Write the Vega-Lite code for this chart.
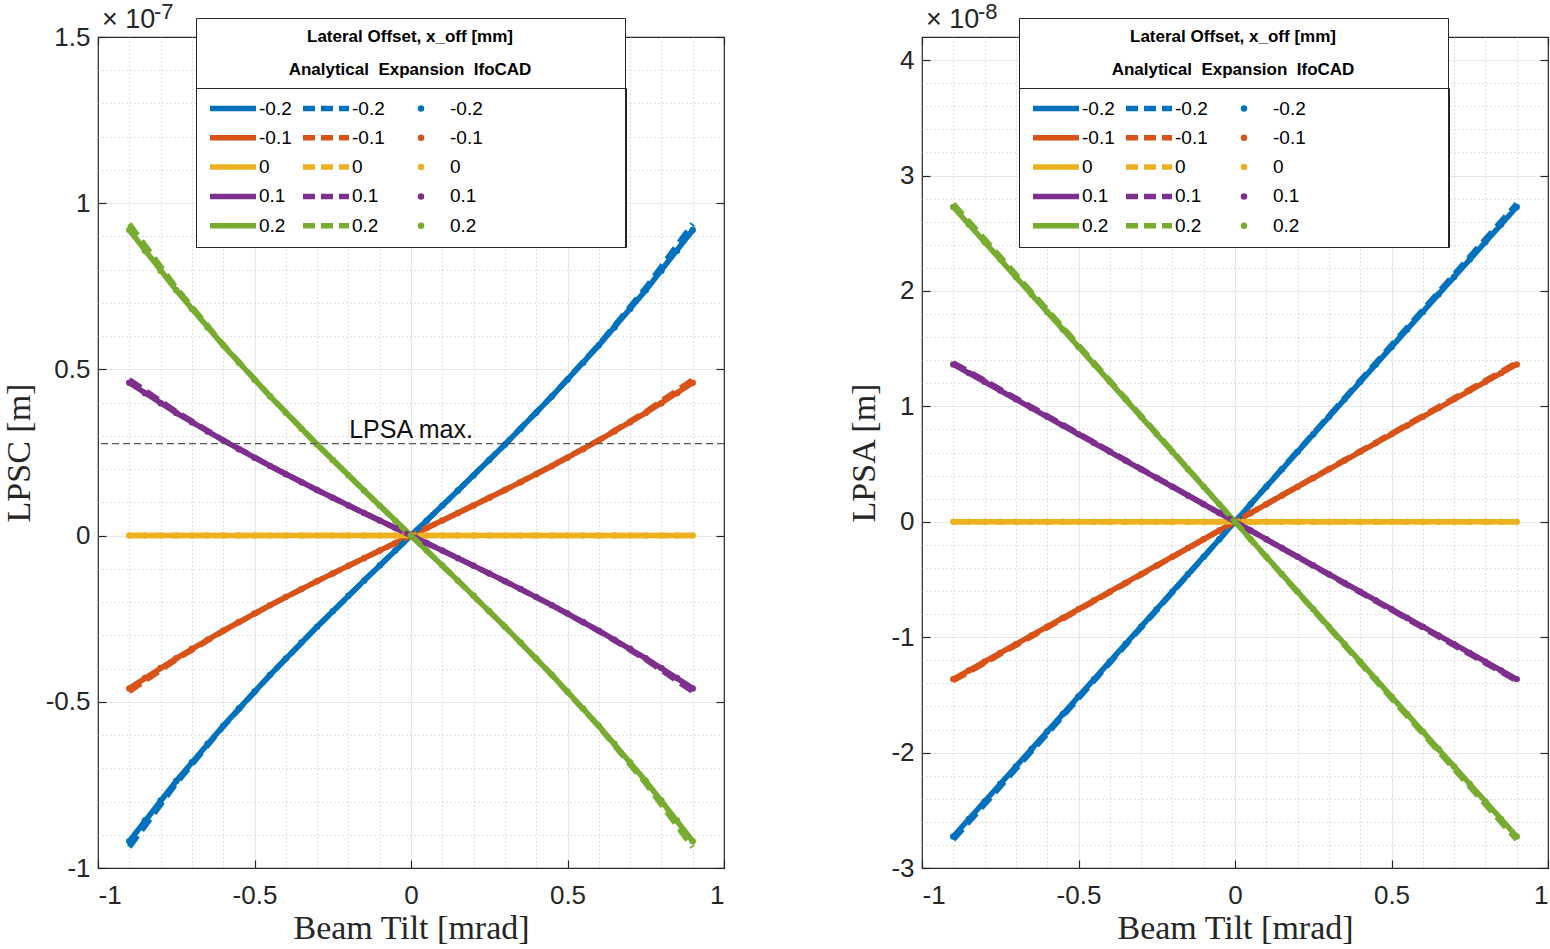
{
"$schema": "https://vega.github.io/schema/vega-lite/v6.json",
"autosize": {"type": "none"},
"padding": {"left": 98, "top": 37, "right": 1452, "bottom": 912},
"background": "white",
"config": {
 "view": {"stroke": "#262626", "strokeWidth": 1.2},
 "font": "Liberation Sans",
 "axis": {"labelFont": "Liberation Sans", "labelFontSize": 26, "labelColor": "#262626", "titleFont": "Liberation Serif", "titleFontSize": 34, "titleFontWeight": "normal", "titleColor": "#262626", "domain": false, "tickColor": "#262626", "tickWidth": 1.2, "tickSize": -8, "labelOverlap": false},
 "legend": {"titleFont": "Liberation Sans", "titleFontSize": 17, "titleFontWeight": "bold", "titleColor": "#000000", "titleAnchor": "middle", "titleAlign": "center", "titleLineHeight": 33, "titlePadding": 20, "titleLimit": 600, "labelFont": "Liberation Sans", "labelFontSize": 19, "labelColor": "#000000", "labelLimit": 600, "labelOffset": 0, "symbolStrokeWidth": 5.5, "rowPadding": 9.3, "clipHeight": 19, "symbolOpacity": 1}
},
"datasets": {
 "LPSC_Analytical": [
  {"s":"A:-0.2","x":-0.9,"y":-0.9194},{"s":"A:-0.2","x":-0.75,"y":-0.7383},{"s":"A:-0.2","x":-0.6,"y":-0.5724},{"s":"A:-0.2","x":-0.45,"y":-0.4187},{"s":"A:-0.2","x":-0.3,"y":-0.2741},{"s":"A:-0.2","x":-0.15,"y":-0.1355},{"s":"A:-0.2","x":0,"y":0},{"s":"A:-0.2","x":0.15,"y":0.1355},{"s":"A:-0.2","x":0.3,"y":0.2741},{"s":"A:-0.2","x":0.45,"y":0.4187},{"s":"A:-0.2","x":0.6,"y":0.5724},{"s":"A:-0.2","x":0.75,"y":0.7383},{"s":"A:-0.2","x":0.9,"y":0.9194},
  {"s":"A:-0.1","x":-0.9,"y":-0.4597},{"s":"A:-0.1","x":-0.75,"y":-0.3691},{"s":"A:-0.1","x":-0.6,"y":-0.2862},{"s":"A:-0.1","x":-0.45,"y":-0.2093},{"s":"A:-0.1","x":-0.3,"y":-0.137},{"s":"A:-0.1","x":-0.15,"y":-0.0678},{"s":"A:-0.1","x":0,"y":0},{"s":"A:-0.1","x":0.15,"y":0.0678},{"s":"A:-0.1","x":0.3,"y":0.137},{"s":"A:-0.1","x":0.45,"y":0.2093},{"s":"A:-0.1","x":0.6,"y":0.2862},{"s":"A:-0.1","x":0.75,"y":0.3691},{"s":"A:-0.1","x":0.9,"y":0.4597},
  {"s":"A:0","x":-0.9,"y":0},{"s":"A:0","x":-0.75,"y":0},{"s":"A:0","x":-0.6,"y":0},{"s":"A:0","x":-0.45,"y":0},{"s":"A:0","x":-0.3,"y":0},{"s":"A:0","x":-0.15,"y":0},{"s":"A:0","x":0,"y":0},{"s":"A:0","x":0.15,"y":0},{"s":"A:0","x":0.3,"y":0},{"s":"A:0","x":0.45,"y":0},{"s":"A:0","x":0.6,"y":0},{"s":"A:0","x":0.75,"y":0},{"s":"A:0","x":0.9,"y":0},
  {"s":"A:0.1","x":-0.9,"y":0.4597},{"s":"A:0.1","x":-0.75,"y":0.3691},{"s":"A:0.1","x":-0.6,"y":0.2862},{"s":"A:0.1","x":-0.45,"y":0.2093},{"s":"A:0.1","x":-0.3,"y":0.137},{"s":"A:0.1","x":-0.15,"y":0.0678},{"s":"A:0.1","x":0,"y":0},{"s":"A:0.1","x":0.15,"y":-0.0678},{"s":"A:0.1","x":0.3,"y":-0.137},{"s":"A:0.1","x":0.45,"y":-0.2093},{"s":"A:0.1","x":0.6,"y":-0.2862},{"s":"A:0.1","x":0.75,"y":-0.3691},{"s":"A:0.1","x":0.9,"y":-0.4597},
  {"s":"A:0.2","x":-0.9,"y":0.9194},{"s":"A:0.2","x":-0.75,"y":0.7383},{"s":"A:0.2","x":-0.6,"y":0.5724},{"s":"A:0.2","x":-0.45,"y":0.4187},{"s":"A:0.2","x":-0.3,"y":0.2741},{"s":"A:0.2","x":-0.15,"y":0.1355},{"s":"A:0.2","x":0,"y":0},{"s":"A:0.2","x":0.15,"y":-0.1355},{"s":"A:0.2","x":0.3,"y":-0.2741},{"s":"A:0.2","x":0.45,"y":-0.4187},{"s":"A:0.2","x":0.6,"y":-0.5724},{"s":"A:0.2","x":0.75,"y":-0.7383},{"s":"A:0.2","x":0.9,"y":-0.9194}
 ],
 "LPSC_Expansion": [
  {"s":"E:-0.2","x":-0.9,"y":-0.9375},{"s":"E:-0.2","x":-0.75,"y":-0.7453},{"s":"E:-0.2","x":-0.6,"y":-0.5746},{"s":"E:-0.2","x":-0.45,"y":-0.4192},{"s":"E:-0.2","x":-0.3,"y":-0.2742},{"s":"E:-0.2","x":-0.15,"y":-0.1355},{"s":"E:-0.2","x":0,"y":0},{"s":"E:-0.2","x":0.15,"y":0.1355},{"s":"E:-0.2","x":0.3,"y":0.2742},{"s":"E:-0.2","x":0.45,"y":0.4192},{"s":"E:-0.2","x":0.6,"y":0.5746},{"s":"E:-0.2","x":0.75,"y":0.7453},{"s":"E:-0.2","x":0.9,"y":0.9375},
  {"s":"E:-0.1","x":-0.9,"y":-0.4688},{"s":"E:-0.1","x":-0.75,"y":-0.3727},{"s":"E:-0.1","x":-0.6,"y":-0.2873},{"s":"E:-0.1","x":-0.45,"y":-0.2096},{"s":"E:-0.1","x":-0.3,"y":-0.1371},{"s":"E:-0.1","x":-0.15,"y":-0.0678},{"s":"E:-0.1","x":0,"y":0},{"s":"E:-0.1","x":0.15,"y":0.0678},{"s":"E:-0.1","x":0.3,"y":0.1371},{"s":"E:-0.1","x":0.45,"y":0.2096},{"s":"E:-0.1","x":0.6,"y":0.2873},{"s":"E:-0.1","x":0.75,"y":0.3727},{"s":"E:-0.1","x":0.9,"y":0.4688},
  {"s":"E:0","x":-0.9,"y":0},{"s":"E:0","x":-0.75,"y":0},{"s":"E:0","x":-0.6,"y":0},{"s":"E:0","x":-0.45,"y":0},{"s":"E:0","x":-0.3,"y":0},{"s":"E:0","x":-0.15,"y":0},{"s":"E:0","x":0,"y":0},{"s":"E:0","x":0.15,"y":0},{"s":"E:0","x":0.3,"y":0},{"s":"E:0","x":0.45,"y":0},{"s":"E:0","x":0.6,"y":0},{"s":"E:0","x":0.75,"y":0},{"s":"E:0","x":0.9,"y":0},
  {"s":"E:0.1","x":-0.9,"y":0.4688},{"s":"E:0.1","x":-0.75,"y":0.3727},{"s":"E:0.1","x":-0.6,"y":0.2873},{"s":"E:0.1","x":-0.45,"y":0.2096},{"s":"E:0.1","x":-0.3,"y":0.1371},{"s":"E:0.1","x":-0.15,"y":0.0678},{"s":"E:0.1","x":0,"y":0},{"s":"E:0.1","x":0.15,"y":-0.0678},{"s":"E:0.1","x":0.3,"y":-0.1371},{"s":"E:0.1","x":0.45,"y":-0.2096},{"s":"E:0.1","x":0.6,"y":-0.2873},{"s":"E:0.1","x":0.75,"y":-0.3727},{"s":"E:0.1","x":0.9,"y":-0.4688},
  {"s":"E:0.2","x":-0.9,"y":0.9375},{"s":"E:0.2","x":-0.75,"y":0.7453},{"s":"E:0.2","x":-0.6,"y":0.5746},{"s":"E:0.2","x":-0.45,"y":0.4192},{"s":"E:0.2","x":-0.3,"y":0.2742},{"s":"E:0.2","x":-0.15,"y":0.1355},{"s":"E:0.2","x":0,"y":0},{"s":"E:0.2","x":0.15,"y":-0.1355},{"s":"E:0.2","x":0.3,"y":-0.2742},{"s":"E:0.2","x":0.45,"y":-0.4192},{"s":"E:0.2","x":0.6,"y":-0.5746},{"s":"E:0.2","x":0.75,"y":-0.7453},{"s":"E:0.2","x":0.9,"y":-0.9375}
 ],
 "LPSC_IfoCAD": [
  {"s":"I:-0.2","x":-0.9,"y":-0.9194},{"s":"I:-0.2","x":-0.85,"y":-0.8571},{"s":"I:-0.2","x":-0.8,"y":-0.7968},{"s":"I:-0.2","x":-0.75,"y":-0.7383},{"s":"I:-0.2","x":-0.7,"y":-0.6815},{"s":"I:-0.2","x":-0.65,"y":-0.6262},{"s":"I:-0.2","x":-0.6,"y":-0.5724},{"s":"I:-0.2","x":-0.55,"y":-0.52},{"s":"I:-0.2","x":-0.5,"y":-0.4688},{"s":"I:-0.2","x":-0.45,"y":-0.4187},{"s":"I:-0.2","x":-0.4,"y":-0.3696},{"s":"I:-0.2","x":-0.35,"y":-0.3214},{"s":"I:-0.2","x":-0.3,"y":-0.2741},{"s":"I:-0.2","x":-0.25,"y":-0.2273},{"s":"I:-0.2","x":-0.2,"y":-0.1812},{"s":"I:-0.2","x":-0.15,"y":-0.1355},{"s":"I:-0.2","x":-0.1,"y":-0.0902},{"s":"I:-0.2","x":-0.05,"y":-0.045},{"s":"I:-0.2","x":0,"y":0},{"s":"I:-0.2","x":0.05,"y":0.045},{"s":"I:-0.2","x":0.1,"y":0.0902},{"s":"I:-0.2","x":0.15,"y":0.1355},{"s":"I:-0.2","x":0.2,"y":0.1812},{"s":"I:-0.2","x":0.25,"y":0.2273},{"s":"I:-0.2","x":0.3,"y":0.2741},{"s":"I:-0.2","x":0.35,"y":0.3214},{"s":"I:-0.2","x":0.4,"y":0.3696},{"s":"I:-0.2","x":0.45,"y":0.4187},{"s":"I:-0.2","x":0.5,"y":0.4688},{"s":"I:-0.2","x":0.55,"y":0.52},{"s":"I:-0.2","x":0.6,"y":0.5724},{"s":"I:-0.2","x":0.65,"y":0.6262},{"s":"I:-0.2","x":0.7,"y":0.6815},{"s":"I:-0.2","x":0.75,"y":0.7383},{"s":"I:-0.2","x":0.8,"y":0.7968},{"s":"I:-0.2","x":0.85,"y":0.8571},{"s":"I:-0.2","x":0.9,"y":0.9194},
  {"s":"I:-0.1","x":-0.9,"y":-0.4597},{"s":"I:-0.1","x":-0.85,"y":-0.4286},{"s":"I:-0.1","x":-0.8,"y":-0.3984},{"s":"I:-0.1","x":-0.75,"y":-0.3691},{"s":"I:-0.1","x":-0.7,"y":-0.3407},{"s":"I:-0.1","x":-0.65,"y":-0.3131},{"s":"I:-0.1","x":-0.6,"y":-0.2862},{"s":"I:-0.1","x":-0.55,"y":-0.26},{"s":"I:-0.1","x":-0.5,"y":-0.2344},{"s":"I:-0.1","x":-0.45,"y":-0.2093},{"s":"I:-0.1","x":-0.4,"y":-0.1848},{"s":"I:-0.1","x":-0.35,"y":-0.1607},{"s":"I:-0.1","x":-0.3,"y":-0.137},{"s":"I:-0.1","x":-0.25,"y":-0.1137},{"s":"I:-0.1","x":-0.2,"y":-0.0906},{"s":"I:-0.1","x":-0.15,"y":-0.0678},{"s":"I:-0.1","x":-0.1,"y":-0.0451},{"s":"I:-0.1","x":-0.05,"y":-0.0225},{"s":"I:-0.1","x":0,"y":0},{"s":"I:-0.1","x":0.05,"y":0.0225},{"s":"I:-0.1","x":0.1,"y":0.0451},{"s":"I:-0.1","x":0.15,"y":0.0678},{"s":"I:-0.1","x":0.2,"y":0.0906},{"s":"I:-0.1","x":0.25,"y":0.1137},{"s":"I:-0.1","x":0.3,"y":0.137},{"s":"I:-0.1","x":0.35,"y":0.1607},{"s":"I:-0.1","x":0.4,"y":0.1848},{"s":"I:-0.1","x":0.45,"y":0.2093},{"s":"I:-0.1","x":0.5,"y":0.2344},{"s":"I:-0.1","x":0.55,"y":0.26},{"s":"I:-0.1","x":0.6,"y":0.2862},{"s":"I:-0.1","x":0.65,"y":0.3131},{"s":"I:-0.1","x":0.7,"y":0.3407},{"s":"I:-0.1","x":0.75,"y":0.3691},{"s":"I:-0.1","x":0.8,"y":0.3984},{"s":"I:-0.1","x":0.85,"y":0.4286},{"s":"I:-0.1","x":0.9,"y":0.4597},
  {"s":"I:0","x":-0.9,"y":0},{"s":"I:0","x":-0.85,"y":0},{"s":"I:0","x":-0.8,"y":0},{"s":"I:0","x":-0.75,"y":0},{"s":"I:0","x":-0.7,"y":0},{"s":"I:0","x":-0.65,"y":0},{"s":"I:0","x":-0.6,"y":0},{"s":"I:0","x":-0.55,"y":0},{"s":"I:0","x":-0.5,"y":0},{"s":"I:0","x":-0.45,"y":0},{"s":"I:0","x":-0.4,"y":0},{"s":"I:0","x":-0.35,"y":0},{"s":"I:0","x":-0.3,"y":0},{"s":"I:0","x":-0.25,"y":0},{"s":"I:0","x":-0.2,"y":0},{"s":"I:0","x":-0.15,"y":0},{"s":"I:0","x":-0.1,"y":0},{"s":"I:0","x":-0.05,"y":0},{"s":"I:0","x":0,"y":0},{"s":"I:0","x":0.05,"y":0},{"s":"I:0","x":0.1,"y":0},{"s":"I:0","x":0.15,"y":0},{"s":"I:0","x":0.2,"y":0},{"s":"I:0","x":0.25,"y":0},{"s":"I:0","x":0.3,"y":0},{"s":"I:0","x":0.35,"y":0},{"s":"I:0","x":0.4,"y":0},{"s":"I:0","x":0.45,"y":0},{"s":"I:0","x":0.5,"y":0},{"s":"I:0","x":0.55,"y":0},{"s":"I:0","x":0.6,"y":0},{"s":"I:0","x":0.65,"y":0},{"s":"I:0","x":0.7,"y":0},{"s":"I:0","x":0.75,"y":0},{"s":"I:0","x":0.8,"y":0},{"s":"I:0","x":0.85,"y":0},{"s":"I:0","x":0.9,"y":0},
  {"s":"I:0.1","x":-0.9,"y":0.4597},{"s":"I:0.1","x":-0.85,"y":0.4286},{"s":"I:0.1","x":-0.8,"y":0.3984},{"s":"I:0.1","x":-0.75,"y":0.3691},{"s":"I:0.1","x":-0.7,"y":0.3407},{"s":"I:0.1","x":-0.65,"y":0.3131},{"s":"I:0.1","x":-0.6,"y":0.2862},{"s":"I:0.1","x":-0.55,"y":0.26},{"s":"I:0.1","x":-0.5,"y":0.2344},{"s":"I:0.1","x":-0.45,"y":0.2093},{"s":"I:0.1","x":-0.4,"y":0.1848},{"s":"I:0.1","x":-0.35,"y":0.1607},{"s":"I:0.1","x":-0.3,"y":0.137},{"s":"I:0.1","x":-0.25,"y":0.1137},{"s":"I:0.1","x":-0.2,"y":0.0906},{"s":"I:0.1","x":-0.15,"y":0.0678},{"s":"I:0.1","x":-0.1,"y":0.0451},{"s":"I:0.1","x":-0.05,"y":0.0225},{"s":"I:0.1","x":0,"y":0},{"s":"I:0.1","x":0.05,"y":-0.0225},{"s":"I:0.1","x":0.1,"y":-0.0451},{"s":"I:0.1","x":0.15,"y":-0.0678},{"s":"I:0.1","x":0.2,"y":-0.0906},{"s":"I:0.1","x":0.25,"y":-0.1137},{"s":"I:0.1","x":0.3,"y":-0.137},{"s":"I:0.1","x":0.35,"y":-0.1607},{"s":"I:0.1","x":0.4,"y":-0.1848},{"s":"I:0.1","x":0.45,"y":-0.2093},{"s":"I:0.1","x":0.5,"y":-0.2344},{"s":"I:0.1","x":0.55,"y":-0.26},{"s":"I:0.1","x":0.6,"y":-0.2862},{"s":"I:0.1","x":0.65,"y":-0.3131},{"s":"I:0.1","x":0.7,"y":-0.3407},{"s":"I:0.1","x":0.75,"y":-0.3691},{"s":"I:0.1","x":0.8,"y":-0.3984},{"s":"I:0.1","x":0.85,"y":-0.4286},{"s":"I:0.1","x":0.9,"y":-0.4597},
  {"s":"I:0.2","x":-0.9,"y":0.9194},{"s":"I:0.2","x":-0.85,"y":0.8571},{"s":"I:0.2","x":-0.8,"y":0.7968},{"s":"I:0.2","x":-0.75,"y":0.7383},{"s":"I:0.2","x":-0.7,"y":0.6815},{"s":"I:0.2","x":-0.65,"y":0.6262},{"s":"I:0.2","x":-0.6,"y":0.5724},{"s":"I:0.2","x":-0.55,"y":0.52},{"s":"I:0.2","x":-0.5,"y":0.4688},{"s":"I:0.2","x":-0.45,"y":0.4187},{"s":"I:0.2","x":-0.4,"y":0.3696},{"s":"I:0.2","x":-0.35,"y":0.3214},{"s":"I:0.2","x":-0.3,"y":0.2741},{"s":"I:0.2","x":-0.25,"y":0.2273},{"s":"I:0.2","x":-0.2,"y":0.1812},{"s":"I:0.2","x":-0.15,"y":0.1355},{"s":"I:0.2","x":-0.1,"y":0.0902},{"s":"I:0.2","x":-0.05,"y":0.045},{"s":"I:0.2","x":0,"y":0},{"s":"I:0.2","x":0.05,"y":-0.045},{"s":"I:0.2","x":0.1,"y":-0.0902},{"s":"I:0.2","x":0.15,"y":-0.1355},{"s":"I:0.2","x":0.2,"y":-0.1812},{"s":"I:0.2","x":0.25,"y":-0.2273},{"s":"I:0.2","x":0.3,"y":-0.2741},{"s":"I:0.2","x":0.35,"y":-0.3214},{"s":"I:0.2","x":0.4,"y":-0.3696},{"s":"I:0.2","x":0.45,"y":-0.4187},{"s":"I:0.2","x":0.5,"y":-0.4688},{"s":"I:0.2","x":0.55,"y":-0.52},{"s":"I:0.2","x":0.6,"y":-0.5724},{"s":"I:0.2","x":0.65,"y":-0.6262},{"s":"I:0.2","x":0.7,"y":-0.6815},{"s":"I:0.2","x":0.75,"y":-0.7383},{"s":"I:0.2","x":0.8,"y":-0.7968},{"s":"I:0.2","x":0.85,"y":-0.8571},{"s":"I:0.2","x":0.9,"y":-0.9194}
 ],
 "LPSA_Analytical": [
  {"s":"A:-0.2","x":-0.9,"y":-2.727},{"s":"A:-0.2","x":-0.75,"y":-2.2725},{"s":"A:-0.2","x":-0.6,"y":-1.818},{"s":"A:-0.2","x":-0.45,"y":-1.3635},{"s":"A:-0.2","x":-0.3,"y":-0.909},{"s":"A:-0.2","x":-0.15,"y":-0.4545},{"s":"A:-0.2","x":0,"y":0},{"s":"A:-0.2","x":0.15,"y":0.4545},{"s":"A:-0.2","x":0.3,"y":0.909},{"s":"A:-0.2","x":0.45,"y":1.3635},{"s":"A:-0.2","x":0.6,"y":1.818},{"s":"A:-0.2","x":0.75,"y":2.2725},{"s":"A:-0.2","x":0.9,"y":2.727},
  {"s":"A:-0.1","x":-0.9,"y":-1.3635},{"s":"A:-0.1","x":-0.75,"y":-1.1363},{"s":"A:-0.1","x":-0.6,"y":-0.909},{"s":"A:-0.1","x":-0.45,"y":-0.6818},{"s":"A:-0.1","x":-0.3,"y":-0.4545},{"s":"A:-0.1","x":-0.15,"y":-0.2273},{"s":"A:-0.1","x":0,"y":0},{"s":"A:-0.1","x":0.15,"y":0.2273},{"s":"A:-0.1","x":0.3,"y":0.4545},{"s":"A:-0.1","x":0.45,"y":0.6818},{"s":"A:-0.1","x":0.6,"y":0.909},{"s":"A:-0.1","x":0.75,"y":1.1363},{"s":"A:-0.1","x":0.9,"y":1.3635},
  {"s":"A:0","x":-0.9,"y":0},{"s":"A:0","x":-0.75,"y":0},{"s":"A:0","x":-0.6,"y":0},{"s":"A:0","x":-0.45,"y":0},{"s":"A:0","x":-0.3,"y":0},{"s":"A:0","x":-0.15,"y":0},{"s":"A:0","x":0,"y":0},{"s":"A:0","x":0.15,"y":0},{"s":"A:0","x":0.3,"y":0},{"s":"A:0","x":0.45,"y":0},{"s":"A:0","x":0.6,"y":0},{"s":"A:0","x":0.75,"y":0},{"s":"A:0","x":0.9,"y":0},
  {"s":"A:0.1","x":-0.9,"y":1.3635},{"s":"A:0.1","x":-0.75,"y":1.1363},{"s":"A:0.1","x":-0.6,"y":0.909},{"s":"A:0.1","x":-0.45,"y":0.6818},{"s":"A:0.1","x":-0.3,"y":0.4545},{"s":"A:0.1","x":-0.15,"y":0.2273},{"s":"A:0.1","x":0,"y":0},{"s":"A:0.1","x":0.15,"y":-0.2273},{"s":"A:0.1","x":0.3,"y":-0.4545},{"s":"A:0.1","x":0.45,"y":-0.6818},{"s":"A:0.1","x":0.6,"y":-0.909},{"s":"A:0.1","x":0.75,"y":-1.1363},{"s":"A:0.1","x":0.9,"y":-1.3635},
  {"s":"A:0.2","x":-0.9,"y":2.727},{"s":"A:0.2","x":-0.75,"y":2.2725},{"s":"A:0.2","x":-0.6,"y":1.818},{"s":"A:0.2","x":-0.45,"y":1.3635},{"s":"A:0.2","x":-0.3,"y":0.909},{"s":"A:0.2","x":-0.15,"y":0.4545},{"s":"A:0.2","x":0,"y":0},{"s":"A:0.2","x":0.15,"y":-0.4545},{"s":"A:0.2","x":0.3,"y":-0.909},{"s":"A:0.2","x":0.45,"y":-1.3635},{"s":"A:0.2","x":0.6,"y":-1.818},{"s":"A:0.2","x":0.75,"y":-2.2725},{"s":"A:0.2","x":0.9,"y":-2.727}
 ],
 "LPSA_Expansion": [
  {"s":"E:-0.2","x":-0.9,"y":-2.754},{"s":"E:-0.2","x":-0.75,"y":-2.295},{"s":"E:-0.2","x":-0.6,"y":-1.836},{"s":"E:-0.2","x":-0.45,"y":-1.377},{"s":"E:-0.2","x":-0.3,"y":-0.918},{"s":"E:-0.2","x":-0.15,"y":-0.459},{"s":"E:-0.2","x":0,"y":0},{"s":"E:-0.2","x":0.15,"y":0.459},{"s":"E:-0.2","x":0.3,"y":0.918},{"s":"E:-0.2","x":0.45,"y":1.377},{"s":"E:-0.2","x":0.6,"y":1.836},{"s":"E:-0.2","x":0.75,"y":2.295},{"s":"E:-0.2","x":0.9,"y":2.754},
  {"s":"E:-0.1","x":-0.9,"y":-1.377},{"s":"E:-0.1","x":-0.75,"y":-1.1475},{"s":"E:-0.1","x":-0.6,"y":-0.918},{"s":"E:-0.1","x":-0.45,"y":-0.6885},{"s":"E:-0.1","x":-0.3,"y":-0.459},{"s":"E:-0.1","x":-0.15,"y":-0.2295},{"s":"E:-0.1","x":0,"y":0},{"s":"E:-0.1","x":0.15,"y":0.2295},{"s":"E:-0.1","x":0.3,"y":0.459},{"s":"E:-0.1","x":0.45,"y":0.6885},{"s":"E:-0.1","x":0.6,"y":0.918},{"s":"E:-0.1","x":0.75,"y":1.1475},{"s":"E:-0.1","x":0.9,"y":1.377},
  {"s":"E:0","x":-0.9,"y":0},{"s":"E:0","x":-0.75,"y":0},{"s":"E:0","x":-0.6,"y":0},{"s":"E:0","x":-0.45,"y":0},{"s":"E:0","x":-0.3,"y":0},{"s":"E:0","x":-0.15,"y":0},{"s":"E:0","x":0,"y":0},{"s":"E:0","x":0.15,"y":0},{"s":"E:0","x":0.3,"y":0},{"s":"E:0","x":0.45,"y":0},{"s":"E:0","x":0.6,"y":0},{"s":"E:0","x":0.75,"y":0},{"s":"E:0","x":0.9,"y":0},
  {"s":"E:0.1","x":-0.9,"y":1.377},{"s":"E:0.1","x":-0.75,"y":1.1475},{"s":"E:0.1","x":-0.6,"y":0.918},{"s":"E:0.1","x":-0.45,"y":0.6885},{"s":"E:0.1","x":-0.3,"y":0.459},{"s":"E:0.1","x":-0.15,"y":0.2295},{"s":"E:0.1","x":0,"y":0},{"s":"E:0.1","x":0.15,"y":-0.2295},{"s":"E:0.1","x":0.3,"y":-0.459},{"s":"E:0.1","x":0.45,"y":-0.6885},{"s":"E:0.1","x":0.6,"y":-0.918},{"s":"E:0.1","x":0.75,"y":-1.1475},{"s":"E:0.1","x":0.9,"y":-1.377},
  {"s":"E:0.2","x":-0.9,"y":2.754},{"s":"E:0.2","x":-0.75,"y":2.295},{"s":"E:0.2","x":-0.6,"y":1.836},{"s":"E:0.2","x":-0.45,"y":1.377},{"s":"E:0.2","x":-0.3,"y":0.918},{"s":"E:0.2","x":-0.15,"y":0.459},{"s":"E:0.2","x":0,"y":0},{"s":"E:0.2","x":0.15,"y":-0.459},{"s":"E:0.2","x":0.3,"y":-0.918},{"s":"E:0.2","x":0.45,"y":-1.377},{"s":"E:0.2","x":0.6,"y":-1.836},{"s":"E:0.2","x":0.75,"y":-2.295},{"s":"E:0.2","x":0.9,"y":-2.754}
 ],
 "LPSA_IfoCAD": [
  {"s":"I:-0.2","x":-0.9,"y":-2.727},{"s":"I:-0.2","x":-0.85,"y":-2.5755},{"s":"I:-0.2","x":-0.8,"y":-2.424},{"s":"I:-0.2","x":-0.75,"y":-2.2725},{"s":"I:-0.2","x":-0.7,"y":-2.121},{"s":"I:-0.2","x":-0.65,"y":-1.9695},{"s":"I:-0.2","x":-0.6,"y":-1.818},{"s":"I:-0.2","x":-0.55,"y":-1.6665},{"s":"I:-0.2","x":-0.5,"y":-1.515},{"s":"I:-0.2","x":-0.45,"y":-1.3635},{"s":"I:-0.2","x":-0.4,"y":-1.212},{"s":"I:-0.2","x":-0.35,"y":-1.0605},{"s":"I:-0.2","x":-0.3,"y":-0.909},{"s":"I:-0.2","x":-0.25,"y":-0.7575},{"s":"I:-0.2","x":-0.2,"y":-0.606},{"s":"I:-0.2","x":-0.15,"y":-0.4545},{"s":"I:-0.2","x":-0.1,"y":-0.303},{"s":"I:-0.2","x":-0.05,"y":-0.1515},{"s":"I:-0.2","x":0,"y":0},{"s":"I:-0.2","x":0.05,"y":0.1515},{"s":"I:-0.2","x":0.1,"y":0.303},{"s":"I:-0.2","x":0.15,"y":0.4545},{"s":"I:-0.2","x":0.2,"y":0.606},{"s":"I:-0.2","x":0.25,"y":0.7575},{"s":"I:-0.2","x":0.3,"y":0.909},{"s":"I:-0.2","x":0.35,"y":1.0605},{"s":"I:-0.2","x":0.4,"y":1.212},{"s":"I:-0.2","x":0.45,"y":1.3635},{"s":"I:-0.2","x":0.5,"y":1.515},{"s":"I:-0.2","x":0.55,"y":1.6665},{"s":"I:-0.2","x":0.6,"y":1.818},{"s":"I:-0.2","x":0.65,"y":1.9695},{"s":"I:-0.2","x":0.7,"y":2.121},{"s":"I:-0.2","x":0.75,"y":2.2725},{"s":"I:-0.2","x":0.8,"y":2.424},{"s":"I:-0.2","x":0.85,"y":2.5755},{"s":"I:-0.2","x":0.9,"y":2.727},
  {"s":"I:-0.1","x":-0.9,"y":-1.3635},{"s":"I:-0.1","x":-0.85,"y":-1.2878},{"s":"I:-0.1","x":-0.8,"y":-1.212},{"s":"I:-0.1","x":-0.75,"y":-1.1363},{"s":"I:-0.1","x":-0.7,"y":-1.0605},{"s":"I:-0.1","x":-0.65,"y":-0.9848},{"s":"I:-0.1","x":-0.6,"y":-0.909},{"s":"I:-0.1","x":-0.55,"y":-0.8333},{"s":"I:-0.1","x":-0.5,"y":-0.7575},{"s":"I:-0.1","x":-0.45,"y":-0.6818},{"s":"I:-0.1","x":-0.4,"y":-0.606},{"s":"I:-0.1","x":-0.35,"y":-0.5303},{"s":"I:-0.1","x":-0.3,"y":-0.4545},{"s":"I:-0.1","x":-0.25,"y":-0.3788},{"s":"I:-0.1","x":-0.2,"y":-0.303},{"s":"I:-0.1","x":-0.15,"y":-0.2273},{"s":"I:-0.1","x":-0.1,"y":-0.1515},{"s":"I:-0.1","x":-0.05,"y":-0.0758},{"s":"I:-0.1","x":0,"y":0},{"s":"I:-0.1","x":0.05,"y":0.0758},{"s":"I:-0.1","x":0.1,"y":0.1515},{"s":"I:-0.1","x":0.15,"y":0.2273},{"s":"I:-0.1","x":0.2,"y":0.303},{"s":"I:-0.1","x":0.25,"y":0.3788},{"s":"I:-0.1","x":0.3,"y":0.4545},{"s":"I:-0.1","x":0.35,"y":0.5303},{"s":"I:-0.1","x":0.4,"y":0.606},{"s":"I:-0.1","x":0.45,"y":0.6818},{"s":"I:-0.1","x":0.5,"y":0.7575},{"s":"I:-0.1","x":0.55,"y":0.8333},{"s":"I:-0.1","x":0.6,"y":0.909},{"s":"I:-0.1","x":0.65,"y":0.9848},{"s":"I:-0.1","x":0.7,"y":1.0605},{"s":"I:-0.1","x":0.75,"y":1.1363},{"s":"I:-0.1","x":0.8,"y":1.212},{"s":"I:-0.1","x":0.85,"y":1.2878},{"s":"I:-0.1","x":0.9,"y":1.3635},
  {"s":"I:0","x":-0.9,"y":0},{"s":"I:0","x":-0.85,"y":0},{"s":"I:0","x":-0.8,"y":0},{"s":"I:0","x":-0.75,"y":0},{"s":"I:0","x":-0.7,"y":0},{"s":"I:0","x":-0.65,"y":0},{"s":"I:0","x":-0.6,"y":0},{"s":"I:0","x":-0.55,"y":0},{"s":"I:0","x":-0.5,"y":0},{"s":"I:0","x":-0.45,"y":0},{"s":"I:0","x":-0.4,"y":0},{"s":"I:0","x":-0.35,"y":0},{"s":"I:0","x":-0.3,"y":0},{"s":"I:0","x":-0.25,"y":0},{"s":"I:0","x":-0.2,"y":0},{"s":"I:0","x":-0.15,"y":0},{"s":"I:0","x":-0.1,"y":0},{"s":"I:0","x":-0.05,"y":0},{"s":"I:0","x":0,"y":0},{"s":"I:0","x":0.05,"y":0},{"s":"I:0","x":0.1,"y":0},{"s":"I:0","x":0.15,"y":0},{"s":"I:0","x":0.2,"y":0},{"s":"I:0","x":0.25,"y":0},{"s":"I:0","x":0.3,"y":0},{"s":"I:0","x":0.35,"y":0},{"s":"I:0","x":0.4,"y":0},{"s":"I:0","x":0.45,"y":0},{"s":"I:0","x":0.5,"y":0},{"s":"I:0","x":0.55,"y":0},{"s":"I:0","x":0.6,"y":0},{"s":"I:0","x":0.65,"y":0},{"s":"I:0","x":0.7,"y":0},{"s":"I:0","x":0.75,"y":0},{"s":"I:0","x":0.8,"y":0},{"s":"I:0","x":0.85,"y":0},{"s":"I:0","x":0.9,"y":0},
  {"s":"I:0.1","x":-0.9,"y":1.3635},{"s":"I:0.1","x":-0.85,"y":1.2878},{"s":"I:0.1","x":-0.8,"y":1.212},{"s":"I:0.1","x":-0.75,"y":1.1363},{"s":"I:0.1","x":-0.7,"y":1.0605},{"s":"I:0.1","x":-0.65,"y":0.9848},{"s":"I:0.1","x":-0.6,"y":0.909},{"s":"I:0.1","x":-0.55,"y":0.8333},{"s":"I:0.1","x":-0.5,"y":0.7575},{"s":"I:0.1","x":-0.45,"y":0.6818},{"s":"I:0.1","x":-0.4,"y":0.606},{"s":"I:0.1","x":-0.35,"y":0.5303},{"s":"I:0.1","x":-0.3,"y":0.4545},{"s":"I:0.1","x":-0.25,"y":0.3788},{"s":"I:0.1","x":-0.2,"y":0.303},{"s":"I:0.1","x":-0.15,"y":0.2273},{"s":"I:0.1","x":-0.1,"y":0.1515},{"s":"I:0.1","x":-0.05,"y":0.0758},{"s":"I:0.1","x":0,"y":0},{"s":"I:0.1","x":0.05,"y":-0.0758},{"s":"I:0.1","x":0.1,"y":-0.1515},{"s":"I:0.1","x":0.15,"y":-0.2273},{"s":"I:0.1","x":0.2,"y":-0.303},{"s":"I:0.1","x":0.25,"y":-0.3788},{"s":"I:0.1","x":0.3,"y":-0.4545},{"s":"I:0.1","x":0.35,"y":-0.5303},{"s":"I:0.1","x":0.4,"y":-0.606},{"s":"I:0.1","x":0.45,"y":-0.6818},{"s":"I:0.1","x":0.5,"y":-0.7575},{"s":"I:0.1","x":0.55,"y":-0.8333},{"s":"I:0.1","x":0.6,"y":-0.909},{"s":"I:0.1","x":0.65,"y":-0.9848},{"s":"I:0.1","x":0.7,"y":-1.0605},{"s":"I:0.1","x":0.75,"y":-1.1363},{"s":"I:0.1","x":0.8,"y":-1.212},{"s":"I:0.1","x":0.85,"y":-1.2878},{"s":"I:0.1","x":0.9,"y":-1.3635},
  {"s":"I:0.2","x":-0.9,"y":2.727},{"s":"I:0.2","x":-0.85,"y":2.5755},{"s":"I:0.2","x":-0.8,"y":2.424},{"s":"I:0.2","x":-0.75,"y":2.2725},{"s":"I:0.2","x":-0.7,"y":2.121},{"s":"I:0.2","x":-0.65,"y":1.9695},{"s":"I:0.2","x":-0.6,"y":1.818},{"s":"I:0.2","x":-0.55,"y":1.6665},{"s":"I:0.2","x":-0.5,"y":1.515},{"s":"I:0.2","x":-0.45,"y":1.3635},{"s":"I:0.2","x":-0.4,"y":1.212},{"s":"I:0.2","x":-0.35,"y":1.0605},{"s":"I:0.2","x":-0.3,"y":0.909},{"s":"I:0.2","x":-0.25,"y":0.7575},{"s":"I:0.2","x":-0.2,"y":0.606},{"s":"I:0.2","x":-0.15,"y":0.4545},{"s":"I:0.2","x":-0.1,"y":0.303},{"s":"I:0.2","x":-0.05,"y":0.1515},{"s":"I:0.2","x":0,"y":0},{"s":"I:0.2","x":0.05,"y":-0.1515},{"s":"I:0.2","x":0.1,"y":-0.303},{"s":"I:0.2","x":0.15,"y":-0.4545},{"s":"I:0.2","x":0.2,"y":-0.606},{"s":"I:0.2","x":0.25,"y":-0.7575},{"s":"I:0.2","x":0.3,"y":-0.909},{"s":"I:0.2","x":0.35,"y":-1.0605},{"s":"I:0.2","x":0.4,"y":-1.212},{"s":"I:0.2","x":0.45,"y":-1.3635},{"s":"I:0.2","x":0.5,"y":-1.515},{"s":"I:0.2","x":0.55,"y":-1.6665},{"s":"I:0.2","x":0.6,"y":-1.818},{"s":"I:0.2","x":0.65,"y":-1.9695},{"s":"I:0.2","x":0.7,"y":-2.121},{"s":"I:0.2","x":0.75,"y":-2.2725},{"s":"I:0.2","x":0.8,"y":-2.424},{"s":"I:0.2","x":0.85,"y":-2.5755},{"s":"I:0.2","x":0.9,"y":-2.727}
 ]
},
"spacing": 198,
"bounds": "flush",
"resolve": {"scale": {"color": "independent", "fill": "independent", "stroke": "independent"}, "legend": {"color": "independent", "fill": "independent", "stroke": "independent"}},
"hconcat": [
 {
  "width": 626, "height": 831,
  "resolve": {"axis": {"x": "independent", "y": "independent"}},
  "layer": [
   {"data": {"name": "LPSC_Analytical"}, "mark": {"type": "line", "strokeWidth": 5.5},
    "encoding": {
     "x": {"field": "x", "type": "quantitative", "scale": {"domain": [-1, 1], "nice": false},
       "axis": {"orient": "bottom", "values": [-1,-0.9,-0.8,-0.7,-0.6,-0.5,-0.4,-0.3,-0.2,-0.1,0,0.1,0.2,0.3,0.4,0.5,0.6,0.7,0.8,0.9,1], "grid": true,
        "gridColor": {"condition": {"test": "abs(datum.value*2-round(datum.value*2))<1e-6", "value": "#dedede"}, "value": "#c4c4c4"},
        "gridDash": {"condition": {"test": "abs(datum.value*2-round(datum.value*2))<1e-6", "value": [1, 0]}, "value": [1, 3]},
        "gridOpacity": {"condition": {"test": "abs(datum.value)>0.99", "value": 0}, "value": 1},
        "tickOpacity": {"condition": {"test": "abs(datum.value*2-round(datum.value*2))<1e-6", "value": 1}, "value": 0},
        "labelExpr": "abs(datum.value*2-round(datum.value*2))<1e-6 ? ''+datum.value : ''",
        "labelPadding": 22, "title": "Beam Tilt [mrad]", "titlePadding": 3}},
     "y": {"field": "y", "type": "quantitative", "scale": {"domain": [-1, 1.5], "nice": false},
       "axis": {"orient": "left", "values": [-1,-0.9,-0.8,-0.7,-0.6,-0.5,-0.4,-0.3,-0.2,-0.1,0,0.1,0.2,0.3,0.4,0.5,0.6,0.7,0.8,0.9,1,1.1,1.2,1.3,1.4,1.5], "grid": true,
        "gridColor": {"condition": {"test": "abs(datum.value*2-round(datum.value*2))<1e-6", "value": "#dedede"}, "value": "#c4c4c4"},
        "gridDash": {"condition": {"test": "abs(datum.value*2-round(datum.value*2))<1e-6", "value": [1, 0]}, "value": [1, 3]},
        "gridOpacity": {"condition": {"test": "datum.value<-0.99 || datum.value>1.49", "value": 0}, "value": 1},
        "tickOpacity": {"condition": {"test": "abs(datum.value*2-round(datum.value*2))<1e-6", "value": 1}, "value": 0},
        "labelExpr": "abs(datum.value*2-round(datum.value*2))<1e-6 ? ''+datum.value : ''",
        "labelPadding": 16, "title": "LPSC [m]", "titlePadding": 9}},
     "stroke": {"field": "s", "type": "nominal",
       "scale": {"domain": ["A:-0.2","A:-0.1","A:0","A:0.1","A:0.2"], "range": ["#0072BD","#D95319","#EDB120","#7E2F8E","#77AC30"]},
       "legend": {"orient": "none", "legendX": 98, "legendY": -19, "zindex": 0,
         "title": ["Lateral Offset, x_off [mm]", "Analytical \u00a0Expansion \u00a0IfoCAD"],
         "symbolType": "stroke", "symbolSize": 2116, "padding": 11, "strokeColor": "#262626", "fillColor": "#ffffff",
         "labelExpr": "pad(substring(datum.label,2), 65, '\u00a0') + '\u200b'"}}
    }},
   {"data": {"name": "LPSC_Expansion"}, "mark": {"type": "line", "strokeWidth": 5.5, "strokeDash": [14, 7]},
    "encoding": {"x": {"field": "x", "type": "quantitative", "axis": null}, "y": {"field": "y", "type": "quantitative", "axis": null},
     "color": {"field": "s", "type": "nominal",
       "scale": {"domain": ["E:-0.2","E:-0.1","E:0","E:0.1","E:0.2"], "range": ["#0072BD","#D95319","#EDB120","#7E2F8E","#77AC30"]},
       "legend": {"orient": "none", "legendX": 202, "legendY": 62, "zindex": 1, "title": null, "padding": 0,
         "symbolType": "stroke", "symbolSize": 2116, "symbolDash": [12, 6],
         "labelExpr": "substring(datum.label,2)"}}}},
   {"data": {"name": "LPSC_IfoCAD"}, "mark": {"type": "point", "filled": true, "size": 42, "opacity": 1, "strokeWidth": 0},
    "encoding": {
     "x": {"field": "x", "type": "quantitative", "axis": {"orient": "top", "values": [-1,-0.5,0,0.5,1], "labels": false, "grid": false, "title": null}},
     "y": {"field": "y", "type": "quantitative", "axis": {"orient": "right", "values": [-1,-0.5,0,0.5,1,1.5], "labels": false, "grid": false, "title": null}},
     "fill": {"field": "s", "type": "nominal",
       "scale": {"domain": ["I:-0.2","I:-0.1","I:0","I:0.1","I:0.2"], "range": ["#0072BD","#D95319","#EDB120","#7E2F8E","#77AC30"]},
       "legend": {"orient": "none", "legendX": 98, "legendY": 51, "zindex": 1, "title": null, "padding": 11, "strokeColor": "#262626",
         "symbolType": "circle", "symbolSize": 42, "symbolStrokeWidth": 0, "symbolOffset": 204.5, "labelOffset": 19.5,
         "labelExpr": "pad(substring(datum.label,2), 29, '\u00a0') + '\u200b'"}}}},
   {"data": {"values": [{}]}, "mark": {"type": "rule", "strokeDash": [7, 4], "color": "#555555", "strokeWidth": 1.2},
    "encoding": {"y": {"datum": 0.277, "type": "quantitative", "axis": null}}},
   {"data": {"values": [{}]}, "mark": {"type": "text", "text": "LPSA max.", "font": "Liberation Sans", "fontSize": 25, "align": "center", "baseline": "alphabetic", "dy": -6, "color": "#111111"},
    "encoding": {"x": {"datum": 0, "type": "quantitative", "axis": null}, "y": {"datum": 0.277, "type": "quantitative", "axis": null}}},
   {"data": {"values": [{}]}, "mark": {"type": "text", "text": "× 10", "font": "Liberation Sans", "fontSize": 27, "align": "left", "baseline": "alphabetic", "dx": 4, "dy": -9, "color": "#262626"},
    "encoding": {"x": {"datum": -1, "type": "quantitative", "axis": null}, "y": {"datum": 1.5, "type": "quantitative", "axis": null}}},
   {"data": {"values": [{}]}, "mark": {"type": "text", "text": "-7", "font": "Liberation Sans", "fontSize": 22, "align": "left", "baseline": "alphabetic", "dx": 56, "dy": -18, "color": "#262626"},
    "encoding": {"x": {"datum": -1, "type": "quantitative", "axis": null}, "y": {"datum": 1.5, "type": "quantitative", "axis": null}}}
  ]
 },
 {
  "width": 626, "height": 831,
  "resolve": {"axis": {"x": "independent", "y": "independent"}},
  "layer": [
   {"data": {"name": "LPSA_Analytical"}, "mark": {"type": "line", "strokeWidth": 5.5},
    "encoding": {
     "x": {"field": "x", "type": "quantitative", "scale": {"domain": [-1, 1], "nice": false},
       "axis": {"orient": "bottom", "values": [-1,-0.9,-0.8,-0.7,-0.6,-0.5,-0.4,-0.3,-0.2,-0.1,0,0.1,0.2,0.3,0.4,0.5,0.6,0.7,0.8,0.9,1], "grid": true,
        "gridColor": {"condition": {"test": "abs(datum.value*2-round(datum.value*2))<1e-6", "value": "#dedede"}, "value": "#c4c4c4"},
        "gridDash": {"condition": {"test": "abs(datum.value*2-round(datum.value*2))<1e-6", "value": [1, 0]}, "value": [1, 3]},
        "gridOpacity": {"condition": {"test": "abs(datum.value)>0.99", "value": 0}, "value": 1},
        "tickOpacity": {"condition": {"test": "abs(datum.value*2-round(datum.value*2))<1e-6", "value": 1}, "value": 0},
        "labelExpr": "abs(datum.value*2-round(datum.value*2))<1e-6 ? ''+datum.value : ''",
        "labelPadding": 22, "title": "Beam Tilt [mrad]", "titlePadding": 3}},
     "y": {"field": "y", "type": "quantitative", "scale": {"domain": [-3, 4.2], "nice": false},
       "axis": {"orient": "left", "values": [-3,-2.8,-2.6,-2.4,-2.2,-2,-1.8,-1.6,-1.4,-1.2,-1,-0.8,-0.6,-0.4,-0.2,0,0.2,0.4,0.6,0.8,1,1.2,1.4,1.6,1.8,2,2.2,2.4,2.6,2.8,3,3.2,3.4,3.6,3.8,4,4.2], "grid": true,
        "gridColor": {"condition": {"test": "abs(datum.value-round(datum.value))<1e-6", "value": "#dedede"}, "value": "#c4c4c4"},
        "gridDash": {"condition": {"test": "abs(datum.value-round(datum.value))<1e-6", "value": [1, 0]}, "value": [1, 3]},
        "gridOpacity": {"condition": {"test": "datum.value<-2.99 || datum.value>4.19", "value": 0}, "value": 1},
        "tickOpacity": {"condition": {"test": "abs(datum.value-round(datum.value))<1e-6", "value": 1}, "value": 0},
        "labelExpr": "abs(datum.value-round(datum.value))<1e-6 ? ''+datum.value : ''",
        "labelPadding": 16, "title": "LPSA [m]", "titlePadding": 9}},
     "stroke": {"field": "s", "type": "nominal",
       "scale": {"domain": ["A:-0.2","A:-0.1","A:0","A:0.1","A:0.2"], "range": ["#0072BD","#D95319","#EDB120","#7E2F8E","#77AC30"]},
       "legend": {"orient": "none", "legendX": 97, "legendY": -19, "zindex": 0,
         "title": ["Lateral Offset, x_off [mm]", "Analytical \u00a0Expansion \u00a0IfoCAD"],
         "symbolType": "stroke", "symbolSize": 2116, "padding": 11, "strokeColor": "#262626", "fillColor": "#ffffff",
         "labelExpr": "pad(substring(datum.label,2), 65, '\u00a0') + '\u200b'"}}
    }},
   {"data": {"name": "LPSA_Expansion"}, "mark": {"type": "line", "strokeWidth": 5.5, "strokeDash": [14, 7]},
    "encoding": {"x": {"field": "x", "type": "quantitative", "axis": null}, "y": {"field": "y", "type": "quantitative", "axis": null},
     "color": {"field": "s", "type": "nominal",
       "scale": {"domain": ["E:-0.2","E:-0.1","E:0","E:0.1","E:0.2"], "range": ["#0072BD","#D95319","#EDB120","#7E2F8E","#77AC30"]},
       "legend": {"orient": "none", "legendX": 201, "legendY": 62, "zindex": 1, "title": null, "padding": 0,
         "symbolType": "stroke", "symbolSize": 2116, "symbolDash": [12, 6],
         "labelExpr": "substring(datum.label,2)"}}}},
   {"data": {"name": "LPSA_IfoCAD"}, "mark": {"type": "point", "filled": true, "size": 42, "opacity": 1, "strokeWidth": 0},
    "encoding": {
     "x": {"field": "x", "type": "quantitative", "axis": {"orient": "top", "values": [-1,-0.5,0,0.5,1], "labels": false, "grid": false, "title": null}},
     "y": {"field": "y", "type": "quantitative", "axis": {"orient": "right", "values": [-3,-2,-1,0,1,2,3,4], "labels": false, "grid": false, "title": null}},
     "fill": {"field": "s", "type": "nominal",
       "scale": {"domain": ["I:-0.2","I:-0.1","I:0","I:0.1","I:0.2"], "range": ["#0072BD","#D95319","#EDB120","#7E2F8E","#77AC30"]},
       "legend": {"orient": "none", "legendX": 97, "legendY": 51, "zindex": 1, "title": null, "padding": 11, "strokeColor": "#262626",
         "symbolType": "circle", "symbolSize": 42, "symbolStrokeWidth": 0, "symbolOffset": 204.5, "labelOffset": 19.5,
         "labelExpr": "pad(substring(datum.label,2), 29, '\u00a0') + '\u200b'"}}}},
   {"data": {"values": [{}]}, "mark": {"type": "text", "text": "× 10", "font": "Liberation Sans", "fontSize": 27, "align": "left", "baseline": "alphabetic", "dx": 4, "dy": -9, "color": "#262626"},
    "encoding": {"x": {"datum": -1, "type": "quantitative", "axis": null}, "y": {"datum": 4.2, "type": "quantitative", "axis": null}}},
   {"data": {"values": [{}]}, "mark": {"type": "text", "text": "-8", "font": "Liberation Sans", "fontSize": 22, "align": "left", "baseline": "alphabetic", "dx": 56, "dy": -18, "color": "#262626"},
    "encoding": {"x": {"datum": -1, "type": "quantitative", "axis": null}, "y": {"datum": 4.2, "type": "quantitative", "axis": null}}}
  ]
 }
]
}
